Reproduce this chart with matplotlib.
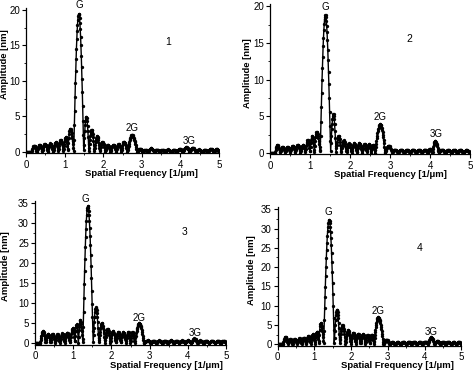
import numpy as np
import matplotlib
matplotlib.use("Agg")
import matplotlib.pyplot as plt
from matplotlib.ticker import MultipleLocator, AutoMinorLocator

plt.rcParams['font.family'] = ['Liberation Sans', 'DejaVu Sans']

# lobe peaks: (position, height) for every arch of each spectrum
p1_start = 0.14
p1_x = [0.21, 0.35, 0.49, 0.63, 0.77, 0.90, 1.03, 1.14, 1.365, 1.56, 1.70, 1.84, 1.98, 2.12, 2.26, 2.40,
        2.53, 2.74, 2.95, 3.09, 3.24, 3.39, 3.53, 3.68, 3.83, 3.98, 4.15, 4.32, 4.48, 4.63, 4.79, 4.94]
p1_y = [0.9, 1.0, 1.1, 1.2, 1.4, 1.7, 2.1, 3.3, 19.4, 5.0, 3.1, 2.2, 1.4, 1.0, 1.0, 1.1,
        1.4, 2.4, 0.45, 0.3, 0.5, 0.35, 0.3, 0.35, 0.3, 0.4, 0.65, 0.6, 0.35, 0.3, 0.45, 0.4]
p1_wide = [(1.235, 1.495), (2.63, 2.88)]   # zeros of the G and 2G main lobes

p2_start = 0.12
p2_x = [0.18, 0.31, 0.44, 0.56, 0.69, 0.82, 0.94, 1.05, 1.16, 1.38, 1.58, 1.71, 1.84, 1.97, 2.10, 2.23, 2.36,
        2.47, 2.57, 2.75, 2.97, 3.12, 3.27, 3.42, 3.57, 3.72, 3.87, 3.99, 4.12, 4.30, 4.45, 4.60, 4.75, 4.90]
p2_y = [1.1, 0.8, 0.8, 1.0, 1.1, 1.1, 1.8, 2.3, 2.9, 18.8, 5.3, 2.3, 1.7, 1.3, 1.3, 1.3, 1.2,
        1.2, 1.1, 3.9, 1.0, 0.45, 0.45, 0.4, 0.45, 0.4, 0.45, 0.5, 1.6, 0.45, 0.4, 0.4, 0.4, 0.35]
p2_wide = [(1.25, 1.51), (2.62, 2.87)]

p3_start = 0.13
p3_x = [0.21, 0.34, 0.46, 0.59, 0.71, 0.84, 0.99, 1.09, 1.18, 1.38, 1.59, 1.75, 1.90, 2.04, 2.18, 2.31, 2.44,
        2.55, 2.72, 2.95, 3.10, 3.25, 3.40, 3.55, 3.70, 3.85, 4.00, 4.17, 4.33, 4.48, 4.63, 4.78, 4.93]
p3_y = [3.0, 2.3, 2.3, 2.3, 2.5, 2.7, 3.8, 4.8, 5.8, 34.3, 9.0, 5.0, 3.6, 3.0, 2.8, 2.8, 2.8,
        2.8, 5.0, 0.7, 0.6, 0.7, 0.6, 0.7, 0.6, 0.7, 0.7, 1.2, 0.7, 0.6, 0.6, 0.6, 0.6]
p3_wide = [(1.25, 1.52), (2.61, 2.85)]

p4_start = 0.14
p4_x = [0.21, 0.34, 0.46, 0.59, 0.71, 0.84, 0.96, 1.07, 1.17, 1.40, 1.61, 1.77, 1.92, 2.06, 2.19, 2.32, 2.45,
        2.56, 2.74, 2.97, 3.12, 3.27, 3.42, 3.57, 3.72, 3.87, 4.02, 4.18, 4.35, 4.50, 4.65, 4.80, 4.93]
p4_y = [1.9, 1.3, 1.3, 1.5, 1.7, 2.1, 2.6, 3.3, 5.5, 32.3, 9.0, 5.0, 3.6, 3.0, 2.7, 2.6, 2.5,
        2.5, 7.0, 1.2, 0.5, 0.5, 0.6, 0.6, 0.6, 0.6, 0.7, 1.8, 0.8, 0.6, 0.6, 0.5, 0.6]
p4_wide = [(1.25, 1.54), (2.62, 2.88)]

# peak labels (x, y) per panel, and panel numbers
peak_names = ['G', '2G', '3G']
p1_lab = [(1.37, 20.7), (2.74, 3.4), (4.22, 1.55)]
p2_lab = [(1.38, 19.9), (2.75, 4.9), (4.14, 2.6)]
p3_lab = [(1.31, 36.0), (2.71, 6.4), (4.19, 2.65)]
p4_lab = [(1.39, 34.4), (2.74, 8.6), (4.18, 3.3)]
panel_num = [('1', 3.68, 15.5), ('2', 3.47, 15.5), ('3', 3.9, 27.8), ('4', 3.88, 25.0)]


def spectrum(x, start, px, py, wide, end=5.0):
    # arches between neighbouring zeros, peaking at the read positions
    edges = [start] + [(a + b) / 2 for a, b in zip(px[:-1], px[1:])] + [end]
    for lo, hi in wide:
        k = [j for j, p in enumerate(px) if lo < p < hi][0]
        edges[k], edges[k + 1] = lo, hi
    y = np.zeros_like(x)
    for a, c, b, h in zip(edges[:-1], px, edges[1:], py):
        up = (x >= a) & (x < c)
        y[up] = h * np.sin(np.pi / 2 * (x[up] - a) / (c - a))
        down = (x >= c) & (x <= b)
        y[down] = h * np.cos(np.pi / 2 * (x[down] - c) / (b - c))
    return y


fig = plt.figure(figsize=(4.74, 3.71), dpi=100)

panels = [
    ([0.055, 0.5865, 0.407, 0.393], p1_start, p1_x, p1_y, p1_wide, p1_lab, (-0.2, 20.3), (0.60, -0.11), (-0.088, 0.61)),
    ([0.570, 0.584, 0.422, 0.405], p2_start, p2_x, p2_y, p2_wide, p2_lab, (-0.2, 20.3), (0.60, -0.105), (-0.09, 0.54)),
    ([0.074, 0.0704, 0.403, 0.387], p3_start, p3_x, p3_y, p3_wide, p3_lab, (-0.4, 35.5), (0.69, -0.11), (-0.13, 0.55)),
    ([0.586, 0.068, 0.387, 0.373], p4_start, p4_x, p4_y, p4_wide, p4_lab, (-0.4, 35.5), (0.65, -0.11), (-0.12, 0.55)),
]

x = np.arange(0, 5.0, 0.009)

for i, (rect, st, px, py, wide, labs, ylim, xlc, ylc) in enumerate(panels):
    ax = fig.add_axes(rect)
    y = spectrum(x, st, px, py, wide)
    ax.plot(x, y, color='black', lw=1.0, marker='o', ms=2.4, mew=0)
    ax.set_xlim(0, 5)
    ax.set_ylim(*ylim)
    for s in ['top', 'right']:
        ax.spines[s].set_visible(False)
    for s in ['left', 'bottom']:
        ax.spines[s].set_linewidth(0.9)
    ax.xaxis.set_major_locator(MultipleLocator(1))
    ax.yaxis.set_major_locator(MultipleLocator(5))
    ax.xaxis.set_minor_locator(AutoMinorLocator(2))
    ax.yaxis.set_minor_locator(AutoMinorLocator(2))
    ax.tick_params(which='major', direction='out', length=3, width=0.8, labelsize=7, pad=1.5)
    ax.tick_params(which='minor', direction='out', length=1.5, width=0.6)
    ax.set_xlabel('Spatial Frequency [1/\u03bcm]', fontsize=6.8, fontweight='bold')
    ax.set_ylabel('Amplitude [nm]', fontsize=6.8, fontweight='bold')
    ax.xaxis.set_label_coords(*xlc)
    ax.yaxis.set_label_coords(*ylc)
    for name, (lx, ly) in zip(peak_names, labs):
        ax.text(lx, ly, name, fontsize=7, ha='center', va='center', clip_on=False)
    num, nx, ny = panel_num[i]
    ax.text(nx, ny, num, fontsize=7.5, ha='center', va='center')

fig.savefig('out.png', dpi=100)
